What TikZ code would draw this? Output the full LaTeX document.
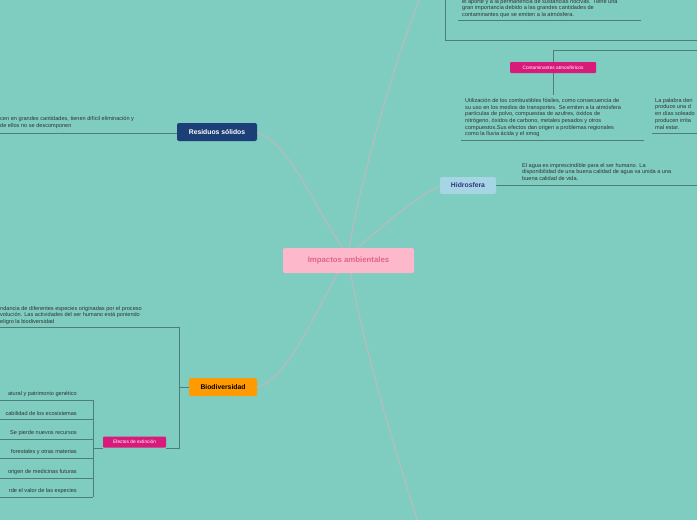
\documentclass[tikz,border=0pt]{standalone}
\usepackage{fontspec}
\setmainfont{Liberation Sans}
\definecolor{bg}{HTML}{7ECDC0}
\definecolor{ln}{HTML}{4F7D77}
\definecolor{br}{HTML}{B3BDBC}
\definecolor{mag}{HTML}{D81B7A}
\definecolor{cpink}{HTML}{FDB8CC}
\definecolor{ctext}{HTML}{E0648C}
\definecolor{hblue}{HTML}{A6D6E4}
\definecolor{rblue}{HTML}{1D3F78}
\definecolor{orng}{HTML}{FF9A00}
\tikzset{
 t/.style={inner sep=0pt,font=\fontsize{5.6}{6.7}\selectfont,text=black!80,align=left,anchor=north west},
 tr/.style={inner sep=0pt,font=\fontsize{5.6}{6.7}\selectfont,text=black!80,anchor=south east},
 main/.style={rounded corners=2pt,inner sep=0pt,font=\bfseries\fontsize{6.8}{7}\selectfont},
 sub/.style={fill=mag,text=white,rounded corners=1pt,inner sep=0pt,minimum height=11pt,font=\fontsize{4.8}{5}\selectfont},
 l/.style={draw=ln,line width=0.7pt},
 b/.style={draw=br,line width=1.3pt}
}
\begin{document}
\begin{tikzpicture}[x=1pt,y=-1pt]
\fill[bg] (0,0) rectangle (697,520);
\clip (0,0) rectangle (697,520);
% branches
\coordinate (c) at (348,255);
\coordinate (topend) at (420,-2);
\coordinate (botend) at (418,522);
\draw[b] (c) .. controls (360,180) and (395,60) .. (topend);
\draw[b] (c) .. controls (358,330) and (395,450) .. (botend);
\draw[b] (c) .. controls (320,220) and (290,140) .. (257,133);
\draw[b] (c) .. controls (380,230) and (410,200) .. (440,186);
\draw[b] (c) .. controls (320,300) and (290,380) .. (257,387);
\node[main,fill=cpink,text=ctext,minimum width=131pt,minimum height=25pt,font=\bfseries\fontsize{7.8}{8}\selectfont] (center) at (348.5,260.5) {Impactos ambientales};
% top right
\draw[l] (445,0) -- (445,40) -- (697,40);
\draw[l] (458,20) -- (641,20);
\node[t] (toptext) at (462,-1) {el aporte y a la permanencia de sustancias nocivas. Tiene una\\gran importancia debido a las grandes cantidades de\\contaminantes que se emiten a la atmósfera.};
\draw[l] (697,50) -- (553,50) -- (553,95);
\node[sub,minimum width=86pt] (cont) at (553,67.5) {Contaminantes atmosféricos};
\draw[l] (461,140) -- (644,140);
\draw[l] (652,133) -- (697,133);
\node[t] (conttext) at (465,98) {Utilización de los combustibles fósiles, como consecuencia de\\su uso en los medios de transportes. Se emiten a la atmósfera\\partículas de polvo, compuestas de azufres, óxidos de\\nitrógeno, óxidos de carbono, metales pesados y otros\\compuestos.Sus efectos dan origen a problemas regionales\\como la lluvia ácida y el smog};
\node[t] (righttext) at (655,98) {La palabra deri\\produce una d\\en días soleado\\producen irrita\\mal estar.};
% Hidrosfera
\draw[l] (496,185.5) -- (697,185.5);
\node[main,fill=hblue,text=blue!40!black!80,minimum width=56pt,minimum height=17pt] (hid) at (468,185.5) {Hidrosfera};
\node[t] (hidtext) at (522,163) {El agua es imprescindible para el ser humano. La\\disponibilidad de una buena calidad de agua va unida a una\\buena calidad de vida.};
% Residuos
\draw[l] (0,133) -- (177,133);
\node[main,fill=rblue,text=white,minimum width=80pt,minimum height=18pt] (res) at (217,132) {Residuos sólidos};
\node[t] (restext) at (0,116) {cen en grandes cantidades, tienen difícil eliminación y\\de ellos no se descomponen};
% Biodiversidad
\draw[l] (0,327) -- (179,327) -- (179,448) -- (166,448);
\draw[l] (179,387) -- (189,387);
\node[main,fill=orng,text=black,minimum width=68pt,minimum height=18pt] (bio) at (223,387) {Biodiversidad};
\node[t] (biotext) at (0,306) {ndancia de diferentes especies originadas por el proceso\\volución. Las actividades del ser humano está poniendo\\eligro la biodiversidad};
\node[sub,minimum width=63pt] (ext) at (134.5,442) {Efectos de extinción};
\draw[l] (93,400) -- (93,497);
\draw[l] (93,448) -- (103,448);
\foreach \y/\s in {400/atural y patrimonio genético,419/cabilidad de los ecosistemas,439/Se pierde nuevos recursos,458/forestales y otras materias,478/origen de medicinas futuras,497/rde el valor de las especies}{
 \draw[l] (0,\y) -- (93,\y);
 \node[tr] at (77,\y-3.5) {\s};
}
\end{tikzpicture}
\end{document}
